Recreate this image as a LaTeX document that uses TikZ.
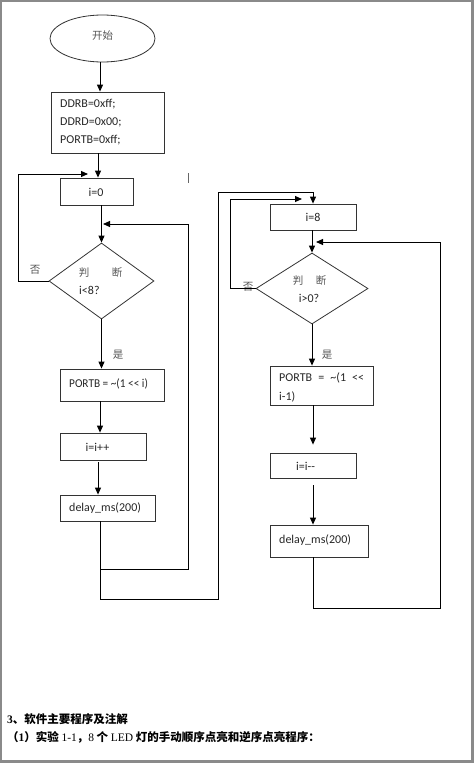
\documentclass[tikz,border=0pt]{standalone}
\usepackage{fontspec}
\usepackage{graphicx}
\setmainfont{Carlito}
\newfontfamily\cjk{Noto Sans CJK SC}
\newfontfamily\serifl{Liberation Serif}
\usetikzlibrary{shapes.geometric,arrows.meta}
\definecolor{frame}{HTML}{8A8A8A}
\definecolor{cjkgray}{HTML}{555555}
\begin{document}
\begin{tikzpicture}[x=1pt,y=-1pt,
  box/.style={draw=black!80, line width=0.8pt, rectangle, inner sep=0pt},
  txt/.style={inner sep=0pt, font=\fontsize{12}{14}\selectfont, text=black!85},
  cjktxt/.style={inner sep=0pt, font=\cjk\fontsize{10.5}{12}\selectfont, text=cjkgray},
  arr/.style={line width=1pt, -{Triangle[length=7pt,width=6pt]}},
  ln/.style={line width=1pt}]
\useasboundingbox (0,0) rectangle (474,763);
% page frame
\fill[frame] (0,0) rectangle (474,2);
\fill[frame] (0,0) rectangle (2,763);
\fill[frame] (471,0) rectangle (474,763);
\fill[frame] (0,760) rectangle (474,763);

% column coordinates
\coordinate (colA) at (100,0);
\coordinate (colB) at (98,0);
\coordinate (colC) at (313,0);

% ---------- left flowchart ----------
\node[draw=black!80, line width=0.8pt, ellipse, minimum width=105pt, minimum height=47pt, inner sep=0pt] (start) at (102.5,38.5) {};
\node[cjktxt] (startt) at (102.5,36) {开始};

\node[box, minimum width=113pt, minimum height=61pt] (b1) at (107.5,122.5) {};
\node[txt, anchor=west] (b1a) at (60,104) {DDRB=0xff;};
\node[txt, anchor=west] (b1b) at (60,122) {DDRD=0x00;};
\node[txt, anchor=west] (b1c) at (60,140) {PORTB=0xff;};

\node[box, minimum width=73pt, minimum height=27pt] (i0) at (96.5,191.5) {};
\node[txt] (i0t) at (96,192) {i=0};

\node[draw=black!80, line width=0.8pt, diamond, minimum width=105pt, minimum height=76pt, inner sep=0pt] (d1) at (101.5,281) {};
\node[cjktxt] (d1a) at (84,273) {判};
\node[cjktxt] (d1b) at (117,273) {断};
\node[txt, anchor=west] (d1c) at (79,290) {i<8?};
\node[cjktxt] (no1) at (35,270) {否};
\node[cjktxt] (yes1) at (118,355) {是};

\node[box, minimum width=104pt, minimum height=32pt] (p1) at (112,385) {};
\node[txt, anchor=west] (p1t) at (69,384) {\scalebox{0.94}[1]{PORTB = \textasciitilde(1 <{}< i)}};

\node[box, minimum width=86pt, minimum height=27pt] (inc) at (103,446.5) {};
\node[txt] (inct) at (97.5,447) {i=i++};

\node[box, minimum width=95pt, minimum height=26pt] (del1) at (107.5,508) {};
\node[txt, anchor=west] (del1t) at (69,508) {delay\_ms(200)};

% small tick mark
\draw[black!60, line width=0.8pt] (188,173) -- (188,183);

% ---------- right flowchart ----------
\node[box, minimum width=86pt, minimum height=26pt] (i8) at (313,217) {};
\node[txt] (i8t) at (313,217) {i=8};

\node[draw=black!80, line width=0.8pt, diamond, minimum width=112pt, minimum height=71pt, inner sep=0pt] (d2) at (312,288.5) {};
\node[cjktxt] (d2a) at (298,281) {判};
\node[cjktxt] (d2b) at (321,281) {断};
\node[txt] (d2c) at (309,298) {i>0?};
\node[cjktxt] (no2) at (248,287) {否};
\node[cjktxt] (yes2) at (327,355) {是};

\node[box, minimum width=103pt, minimum height=39pt] (p2) at (321.5,385.5) {};
\node[txt, anchor=west] (p2a) at (279,378) {\makebox[85pt][s]{PORTB = \textasciitilde(1 <{}<}};
\node[txt, anchor=west] (p2b) at (279,397) {i-1)};

\node[box, minimum width=86pt, minimum height=25pt] (dec) at (313,465.5) {};
\node[txt, anchor=west] (dect) at (296,466) {i=i-{}-};

\node[box, minimum width=98pt, minimum height=32pt] (del2) at (319,541) {};
\node[txt, anchor=west] (del2t) at (279,540) {delay\_ms(200)};

% ---------- connectors, left ----------
\draw[arr] (start.south -| colA) -- (b1.north -| colA);
\draw[arr] (b1.south -| colB) -- (i0.north -| colB);
\draw[arr] (i0.south -| d1.north) -- (d1.north);
\draw[arr] (d1.south) -- (d1.south |- p1.north);
\draw[arr] (p1.south -| colA) -- (inc.north -| colA);
\draw[arr] ([yshift=-2pt]inc.south -| colB) -- (del1.north -| colB);

\coordinate (n1a) at (18,174);
\coordinate (n1b) at (88,174);
\draw[arr] (d1.west) -- (d1.west -| n1a) -- (n1a) -- (n1b);

\coordinate (r1a) at (188,569);
\coordinate (r1b) at (188,224);
\coordinate (r1c) at (103,224);
\draw[arr] (del1.south -| colA) -- (colA |- r1a) -- (r1a) -- (r1b) -- (r1c);

\coordinate (ob) at (218,599);
\coordinate (ot) at (218,192);
\draw[arr] (colA |- r1a) -- (colA |- ob) -- (ob) -- (ot) -- (i8.north |- ot) -- (i8.north);

% ---------- connectors, right ----------
\draw[arr] (i8.south -| d2.north) -- (d2.north);
\draw[arr] (d2.south) -- (d2.south |- p2.north);
\draw[arr, shorten >=8pt] (p2.south -| colC) -- (dec.north -| colC);
\draw[arr, shorten <=7pt] (dec.south -| colC) -- (del2.north -| colC);

\coordinate (r2a) at (440,608);
\coordinate (r2b) at (440,242);
\coordinate (r2c) at (316,242);
\draw[arr] (del2.south -| colC) -- (colC |- r2a) -- (r2a) -- (r2b) -- (r2c);

\coordinate (n2a) at (230,199);
\coordinate (n2b) at (302,199);
\draw[arr] (d2.west) -- (d2.west -| n2a) -- (n2a) -- (n2b);

% ---------- bottom text ----------
\node[inner sep=0pt, anchor=west, font=\fontsize{11.5}{13}\selectfont] (h1) at (7,719)
  {{\serifl\bfseries 3}{\cjk\bfseries 、软件主要程序及注解}};
\node[inner sep=0pt, anchor=west, font=\fontsize{11.5}{13}\selectfont] (h2) at (7,737)
  {{\cjk\bfseries （}{\serifl\bfseries 1}{\cjk\bfseries ）实验} {\serifl 1-1}{\cjk\bfseries ，}{\serifl 8} {\cjk\bfseries 个} {\serifl LED} {\cjk\bfseries 灯的手动顺序点亮和逆序点亮程序：}};
\end{tikzpicture}
\end{document}
